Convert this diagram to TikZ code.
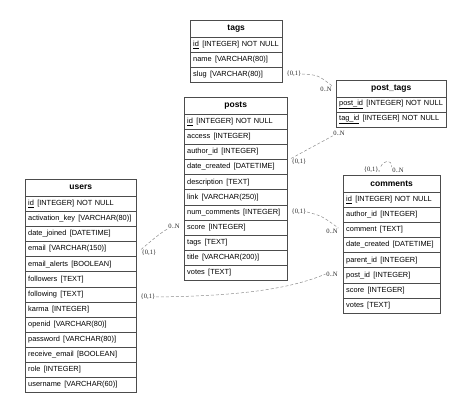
\documentclass[tikz,border=0pt]{standalone}
\usepackage{fontspec}
\setmainfont{Liberation Sans}
\newfontfamily\lblfont{Liberation Serif}
\usetikzlibrary{calc}
\newcommand\ergap{\hspace{0.45em}}
\tikzset{
  titlecell/.style={draw=black!70, fill=white, minimum height=17pt, inner sep=0pt,
    font=\fontsize{8.5}{10}\selectfont\bfseries, anchor=north west},
  rowcell/.style={draw=black!70, fill=white, minimum height=15.1pt, inner xsep=3pt, inner ysep=0pt,
    font=\fontsize{7.4}{9}\selectfont, anchor=north west, align=left},
  card/.style={font=\lblfont\fontsize{6.6}{8}\selectfont, text=black!85, inner sep=0.5pt},
  rel/.style={draw=black!45, dash pattern=on 3pt off 2pt, line width=0.5pt}
}
\newcommand\ertable[6]{%
  \node[titlecell, minimum width=#4pt] (#1) at (#2,#3) {#5};
  \pgfmathsetmacro\ertw{#4-6}
  \foreach \rowtxt [count=\i] in {#6}{%
    \pgfmathsetmacro\yy{#3+17+(\i-1)*15.1}
    \node[rowcell, text width=\ertw pt] (#1-\i) at (#2,\yy) {\rowtxt};
  }
}
\begin{document}
\begin{tikzpicture}[x=1pt,y=-1pt]
\useasboundingbox (0,0) rectangle (474,411);

\ertable{tags}{190}{20}{92}{tags}{\underline{id}\ergap[INTEGER] NOT NULL, name\ergap[VARCHAR(80)], slug\ergap[VARCHAR(80)]}

\ertable{posttags}{336}{80}{110}{post\_tags}{\underline{post\_id}\ergap[INTEGER] NOT NULL, \underline{tag\_id}\ergap[INTEGER] NOT NULL}

\ertable{posts}{184}{97}{103}{posts}{\underline{id}\ergap[INTEGER] NOT NULL, access\ergap[INTEGER], author\_id\ergap[INTEGER], date\_created\ergap[DATETIME], description\ergap[TEXT], link\ergap[VARCHAR(250)], num\_comments\ergap[INTEGER], score\ergap[INTEGER], tags\ergap[TEXT], title\ergap[VARCHAR(200)], votes\ergap[TEXT]}

\ertable{users}{25}{179}{111}{users}{\underline{id}\ergap[INTEGER] NOT NULL, activation\_key\ergap[VARCHAR(80)], date\_joined\ergap[DATETIME], email\ergap[VARCHAR(150)], email\_alerts\ergap[BOOLEAN], followers\ergap[TEXT], following\ergap[TEXT], karma\ergap[INTEGER], openid\ergap[VARCHAR(80)], password\ergap[VARCHAR(80)], receive\_email\ergap[BOOLEAN], role\ergap[INTEGER], username\ergap[VARCHAR(60)]}

\ertable{comments}{343}{175}{97}{comments}{\underline{id}\ergap[INTEGER] NOT NULL, author\_id\ergap[INTEGER], comment\ergap[TEXT], date\_created\ergap[DATETIME], parent\_id\ergap[INTEGER], post\_id\ergap[INTEGER], score\ergap[INTEGER], votes\ergap[TEXT]}

% cardinality labels
\node[card] (e1a) at (294,74) {\{0,1\}};
\node[card] (e1b) at (326,89) {0..N};
\node[card] (e2a) at (299,162) {\{0,1\}};
\node[card] (e2b) at (339,133) {0..N};
\node[card] (e3a) at (299,212) {\{0,1\}};
\node[card] (e3b) at (332,231) {0..N};
\node[card] (e4a) at (149,253) {\{0,1\}};
\node[card] (e4b) at (174,226) {0..N};
\node[card] (e5a) at (148,297) {\{0,1\}};
\node[card] (e5b) at (332,274) {0..N};
\node[card] (e6a) at (372,170) {\{0,1\},};
\node[card] (e6b) at (398,170) {0..N};

% relationships
\draw[rel] (e1a.east) .. controls (318,75) .. (e1b.north east);
\draw[rel] (e2a.north west) -- (e2b.south west);
\draw[rel] (e3a.east) .. controls (322,216) .. (e3b.north east);
\draw[rel] (e4a.north west) .. controls (150,242) and (160,233) .. (e4b.south west);
\draw[rel] (e5a.east) .. controls (240,296) and (290,289) .. (e5b.west);
\draw[rel] (e6a.north east) .. controls (384,160) and (392,159) .. (e6b.north west);
\end{tikzpicture}
\end{document}
